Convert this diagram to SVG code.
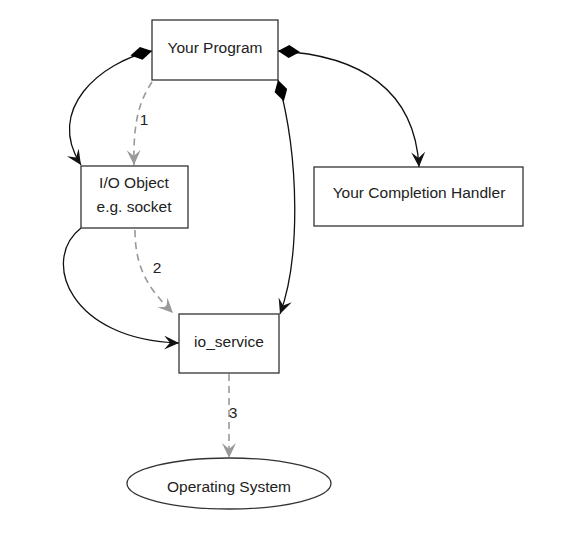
<svg xmlns="http://www.w3.org/2000/svg" width="585" height="541" viewBox="0 0 585 541">
<style>
.box{fill:#fff;stroke:#333;stroke-width:1.3}
text{font-family:"Liberation Sans",Arial,sans-serif;font-size:15.5px;fill:#222;text-anchor:middle}
.e{fill:none;stroke:#111;stroke-width:1.3}
.d{fill:none;stroke:#999;stroke-width:1.6;stroke-dasharray:7,5}
</style>
<defs>
<marker id="vee" markerUnits="userSpaceOnUse" markerWidth="18" markerHeight="16" refX="15" refY="7" orient="auto"><path d="M0,0 L15,7 L0,14 L6,7 z" fill="#111"/></marker>
<marker id="veeg" markerUnits="userSpaceOnUse" markerWidth="18" markerHeight="16" refX="15" refY="7" orient="auto"><path d="M0,0 L15,7 L0,14 L6,7 z" fill="#999"/></marker>
<marker id="dia" markerUnits="userSpaceOnUse" markerWidth="24" markerHeight="14" refX="0" refY="6.5" orient="auto"><path d="M0,6.5 L11,0 L22,6.5 L11,13 z" fill="#000"/></marker>
</defs>
<g id="connectors">
<path class="e" d="M152,51 C100,62 45,110 81,165" marker-start="url(#dia)" marker-end="url(#vee)"/>
<path class="d" d="M152,82 C140,100 133,120 134,165" marker-end="url(#veeg)"/>
<path class="e" d="M278,51 C360,55 415,90 419,167" marker-start="url(#dia)" marker-end="url(#vee)"/>
<path class="e" d="M278,80 C300,160 300,260 280,314" marker-start="url(#dia)" marker-end="url(#vee)"/>
<path class="e" d="M81,228 C40,260 70,340 179,343" marker-end="url(#vee)"/>
<path class="d" d="M135,230 C135,270 150,290 173,313" marker-end="url(#veeg)"/>
<path class="d" d="M229,374 L229,458" marker-end="url(#veeg)"/>
<text x="144" y="125">1</text>
<text x="157" y="273">2</text>
<text x="233" y="418">3</text>
</g>
<g id="program"><rect class="box" x="152" y="20" width="126" height="60"/><text x="215" y="53">Your Program</text></g>
<g id="ioobject"><rect class="box" x="81" y="166" width="107" height="62"/><text x="134" y="188">I/O Object</text><text x="134" y="212">e.g. socket</text></g>
<g id="handler"><rect class="box" x="314" y="167" width="209" height="59"/><text x="419" y="198">Your Completion Handler</text></g>
<g id="ioservice"><rect class="box" x="179" y="314" width="100" height="59"/><text x="229" y="347">io_service</text></g>
<g id="os"><ellipse class="box" cx="229" cy="483.5" rx="102" ry="25.5"/><text x="229" y="492">Operating System</text></g>
</svg>
